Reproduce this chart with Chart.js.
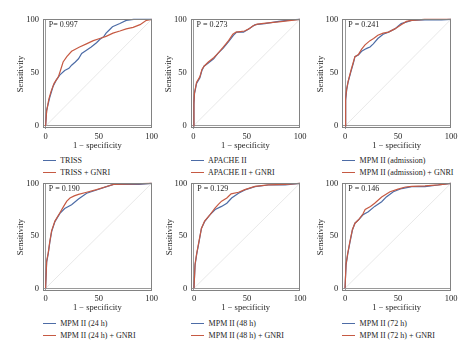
<!DOCTYPE html>
<html><head><meta charset="utf-8">
<script src="https://cdn.jsdelivr.net/npm/chart.js@4/dist/chart.umd.min.js"></script>
<style>
html,body{margin:0;padding:0;background:#fff;}
#wrap{position:relative;width:474px;height:355px;overflow:hidden;font-family:"Liberation Serif",serif;}
canvas{position:absolute;}
.lg-line{position:absolute;height:1px;width:13px;}
.lg-text{position:absolute;font-size:8px;color:#1e1e1e;white-space:nowrap;line-height:10px;}
</style></head><body><div id="wrap"></div>
<script>
// ---- ticks / labels ----
const tickValues = [0, 50, 100];
const diagonal = [0, 100];
const pLabels = ["P= 0.997", "P = 0.273", "P = 0.241", "P = 0.190", "P = 0.129", "P = 0.146"];
const legendNames = [
  ["TRISS", "TRISS + GNRI"],
  ["APACHE II", "APACHE II + GNRI"],
  ["MPM II (admission)", "MPM II (admission) + GNRI"],
  ["MPM II (24 h)", "MPM II (24 h) + GNRI"],
  ["MPM II (48 h)", "MPM II (48 h) + GNRI"],
  ["MPM II (72 h)", "MPM II (72 h) + GNRI"]
];

// ---- series values (1 - specificity, sensitivity) ----
const trissFpr = [0,1,4,7,10,13.5,18,22,24.5,28,31,34,38.5,43,48,51,55,57,60,63,70,76,83,100];
const trissTpr = [0,15,27,37,43,48,52,54,57,60,63,68,71,74,78,81,84,87,90,93,96,99,100,100];
const trissGnriFpr = [0,1,3,5,8,12,14,16.5,20,24.5,28,32,38.5,45,51,57,63.5,70,76,82.5,89,95,100];
const trissGnriTpr = [0,14,25,32,40,46,52,60,65,70,72,74,77,80,82,84,87,89,91,92.5,95,99,100];

const apacheFpr = [0,0.5,1,3,6,8,10,14,19,23,28,33,37.5,40.6,44,47,51.5,55,58,67,80,92,100];
const apacheTpr = [0,20,30,40,45,52,56,59,63,68,73,79,85,88,88,88,90.6,93,95,96,98,99.4,100];
const apacheGnriFpr = [0,0.5,1,3,6,8,10,14,19,23,28,33,37,40,44,48,52,56,60,68,80,92,100];
const apacheGnriTpr = [0,22,31,41,46,53,56,60,64,68,74,80,86,88,88.5,89,91,94,95.5,96.5,97.5,99,100];

const mpmAdmFpr = [0,0.6,1.6,3,5.6,7.9,9.4,12.6,15.7,18.9,21,23.6,26.7,31,36,41,47,53,63,75.5,91,100];
const mpmAdmTpr = [0,24,34,41.5,51,59,65,66.5,70,72,73,74,77,82,86,88,91,96,99,99.4,99.4,100];
const mpmAdmGnriFpr = [0,0.6,1.6,3,5.6,7.9,9.4,12.6,15.7,18.9,23.6,27,31,36,41,47,53,58,63,75,91,100];
const mpmAdmGnriTpr = [0,26,35,42,52,60,65,67,72,76,80,82,85,87,88,91,95,98,99,100,100,100];

const mpm24Fpr = [0,1,2.5,4,5.7,8.8,13.5,18,24.5,31,38.7,48,57.5,64,88,100];
const mpm24Tpr = [0,25,33,44,54,63.5,71.4,76,79.5,85,90.5,93.6,96.8,99,99,100];
const mpm24GnriFpr = [0,1,2.5,4,5.7,8.8,13.5,17,20,23,27,31,38.7,48,57.5,64,100];
const mpm24GnriTpr = [0,26,34,45,55,64,72,78,83,86,88,89.5,91.5,94,97,99,100];

const mpm48Fpr = [0,1,2.5,4.7,7,10,15,20,26,31,35.5,42,48,57.5,70,86,100];
const mpm48Tpr = [0,22,32,44,57,63.5,70,75,78,81,86,90.5,93.7,96.8,98.4,98.4,100];
const mpm48GnriFpr = [0,1,2.5,4.7,7,10,15,20,23,26,31,35,42,48,57.5,70,86,100];
const mpm48GnriTpr = [0,23,33,45,57,64,70,76.5,80,83,86,90,91.5,94,97,98.5,99,100];

const mpm72Fpr = [0,1,2.5,4.7,7,9.4,12.6,17,22,28,34.6,39,45.6,53.5,63,75.5,88,100];
const mpm72Tpr = [0,22,32,44,55.5,62,65,70,73,78,82.5,87,92,95,96.8,96.8,98.4,100];
const mpm72GnriFpr = [0,1,2.5,4.7,7,9.4,12.6,17,19,24,28,34.6,42.5,50,57,63,75.5,88,100];
const mpm72GnriTpr = [0,23,33,45,56,62,65,71,75,78,81,87,92,94.5,96.5,97,97.5,98.5,100];

const panelSeries = [
  [trissFpr, trissTpr, trissGnriFpr, trissGnriTpr],
  [apacheFpr, apacheTpr, apacheGnriFpr, apacheGnriTpr],
  [mpmAdmFpr, mpmAdmTpr, mpmAdmGnriFpr, mpmAdmGnriTpr],
  [mpm24Fpr, mpm24Tpr, mpm24GnriFpr, mpm24GnriTpr],
  [mpm48Fpr, mpm48Tpr, mpm48GnriFpr, mpm48GnriTpr],
  [mpm72Fpr, mpm72Tpr, mpm72GnriFpr, mpm72GnriTpr]
];

// ---- layout (pixel geometry of each panel) ----
const BLUE = '#4d6ca6', RED = '#c65a43', FRAME = '#828282', TXT = '#1e1e1e';
const FONT = '"Liberation Serif", "Times New Roman", serif';
const XMIN = -2.5, YMIN = -2.5;
const layout = [
  {l:45.6, r:151.7, t:19.3, b:126,   ct:0,   cb:150.5, lg:160},
  {l:193.4,r:300,   t:19.3, b:126,   ct:0,   cb:150.5, lg:160},
  {l:345,  r:451,   t:19.3, b:126,   ct:0,   cb:150.5, lg:160},
  {l:45.6, r:151.7, t:183.3,b:288.3, ct:160, cb:313.3, lg:323},
  {l:194,  r:300,   t:183.3,b:288.3, ct:160, cb:313.3, lg:323},
  {l:345,  r:451,   t:183.3,b:288.3, ct:160, cb:313.3, lg:323}
];

const wrap = document.getElementById('wrap');

function pts(xs, ys) { return xs.map((x, i) => ({x: x, y: ys[i]})); }

const framePlugin = {
  id: 'frame',
  afterDatasetsDraw(chart, args, opts) {
    const ca = chart.chartArea, ctx = chart.ctx;
    ctx.save();
    ctx.strokeStyle = FRAME;
    ctx.lineWidth = 1;
    ctx.strokeRect(Math.round(ca.left) + 0.5, Math.round(ca.top) + 0.5,
                   Math.round(ca.right - ca.left) - 1, Math.round(ca.bottom - ca.top) - 1);
    const xs = chart.scales.x, ys = chart.scales.y;
    ctx.fillStyle = TXT;
    ctx.font = '8px ' + FONT;
    ctx.textBaseline = 'middle';
    ctx.textAlign = 'left';
    ctx.fillText(opts.label, xs.getPixelForValue(0) + 3.2, ys.getPixelForValue(100) + 5.8);
    ctx.restore();
  }
};

layout.forEach((g, i) => {
  const pxX = (g.r - g.l) / 100, pxY = (g.b - g.t) / 100;
  const L = g.l + XMIN * pxX;
  const B = g.b - YMIN * pxY;
  const cl = Math.round(g.l - 29.4);
  const cw = Math.round(g.r + 10 - cl);
  const ct = g.ct;
  const ch = Math.round(g.cb - ct);
  const yW = L - cl;
  const xH = (ct + ch) - B;

  const cv = document.createElement('canvas');
  cv.width = cw; cv.height = ch;
  cv.style.left = cl + 'px'; cv.style.top = ct + 'px';
  cv.style.width = cw + 'px'; cv.style.height = ch + 'px';
  wrap.appendChild(cv);

  const s = panelSeries[i];
  const zeroGrid = c => (c.tick && c.tick.value === 0) ? '#9a9a9a' : 'rgba(0,0,0,0)';
  const tickFont = {family: FONT, size: 8.5};

  new Chart(cv, {
    type: 'scatter',
    data: {
      datasets: [
        {label: legendNames[i][1], data: pts(s[2], s[3]), showLine: true, borderColor: RED,
         borderWidth: 1.2, pointRadius: 0, tension: 0, clip: 3},
        {label: legendNames[i][0], data: pts(s[0], s[1]), showLine: true, borderColor: BLUE,
         borderWidth: 1.2, pointRadius: 0, tension: 0, clip: 3},
        {label: 'ref', data: pts(diagonal, diagonal), showLine: true, borderColor: '#e2e2e2',
         borderWidth: 0.8, pointRadius: 0}
      ]
    },
    options: {
      responsive: false, animation: false, devicePixelRatio: 1,
      layout: {padding: {left: 0, top: g.t - ct, right: cw - (g.r - cl), bottom: 0}},
      plugins: {legend: {display: false}, tooltip: {enabled: false}, frame: {label: pLabels[i]}},
      scales: {
        x: {
          type: 'linear', min: XMIN, max: 100,
          afterBuildTicks: sc => { sc.ticks = tickValues.map(v => ({value: v})); },
          afterFit: sc => { sc.height = xH; },
          ticks: {font: tickFont, color: TXT, padding: 3, maxRotation: 0, autoSkip: false},
          grid: {color: zeroGrid, drawTicks: false, lineWidth: 1},
          border: {display: false},
          title: {display: true, text: '1 − specificity', font: tickFont, color: TXT, padding: 0}
        },
        y: {
          type: 'linear', min: YMIN, max: 100,
          afterBuildTicks: sc => { sc.ticks = tickValues.map(v => ({value: v})); },
          afterFit: sc => { sc.width = yW; },
          ticks: {font: tickFont, color: TXT, padding: 4, autoSkip: false},
          grid: {color: zeroGrid, drawTicks: false, lineWidth: 1},
          border: {display: false},
          title: {display: true, text: 'Sensitivity', font: tickFont, color: TXT, padding: 0}
        }
      }
    },
    plugins: [framePlugin]
  });

  // legend
  [[BLUE, legendNames[i][0], g.lg], [RED, legendNames[i][1], g.lg + 12]].forEach(([col, txt, y]) => {
    const ln = document.createElement('div');
    ln.className = 'lg-line';
    ln.style.background = col;
    ln.style.left = (g.l - 2.6) + 'px';
    ln.style.top = Math.round(y) + 'px';
    wrap.appendChild(ln);
    const tx = document.createElement('div');
    tx.className = 'lg-text';
    tx.textContent = txt;
    tx.style.left = (g.l + 14.6) + 'px';
    tx.style.top = (Math.round(y) - 4.5) + 'px';
    wrap.appendChild(tx);
  });
});
</script></body></html>
